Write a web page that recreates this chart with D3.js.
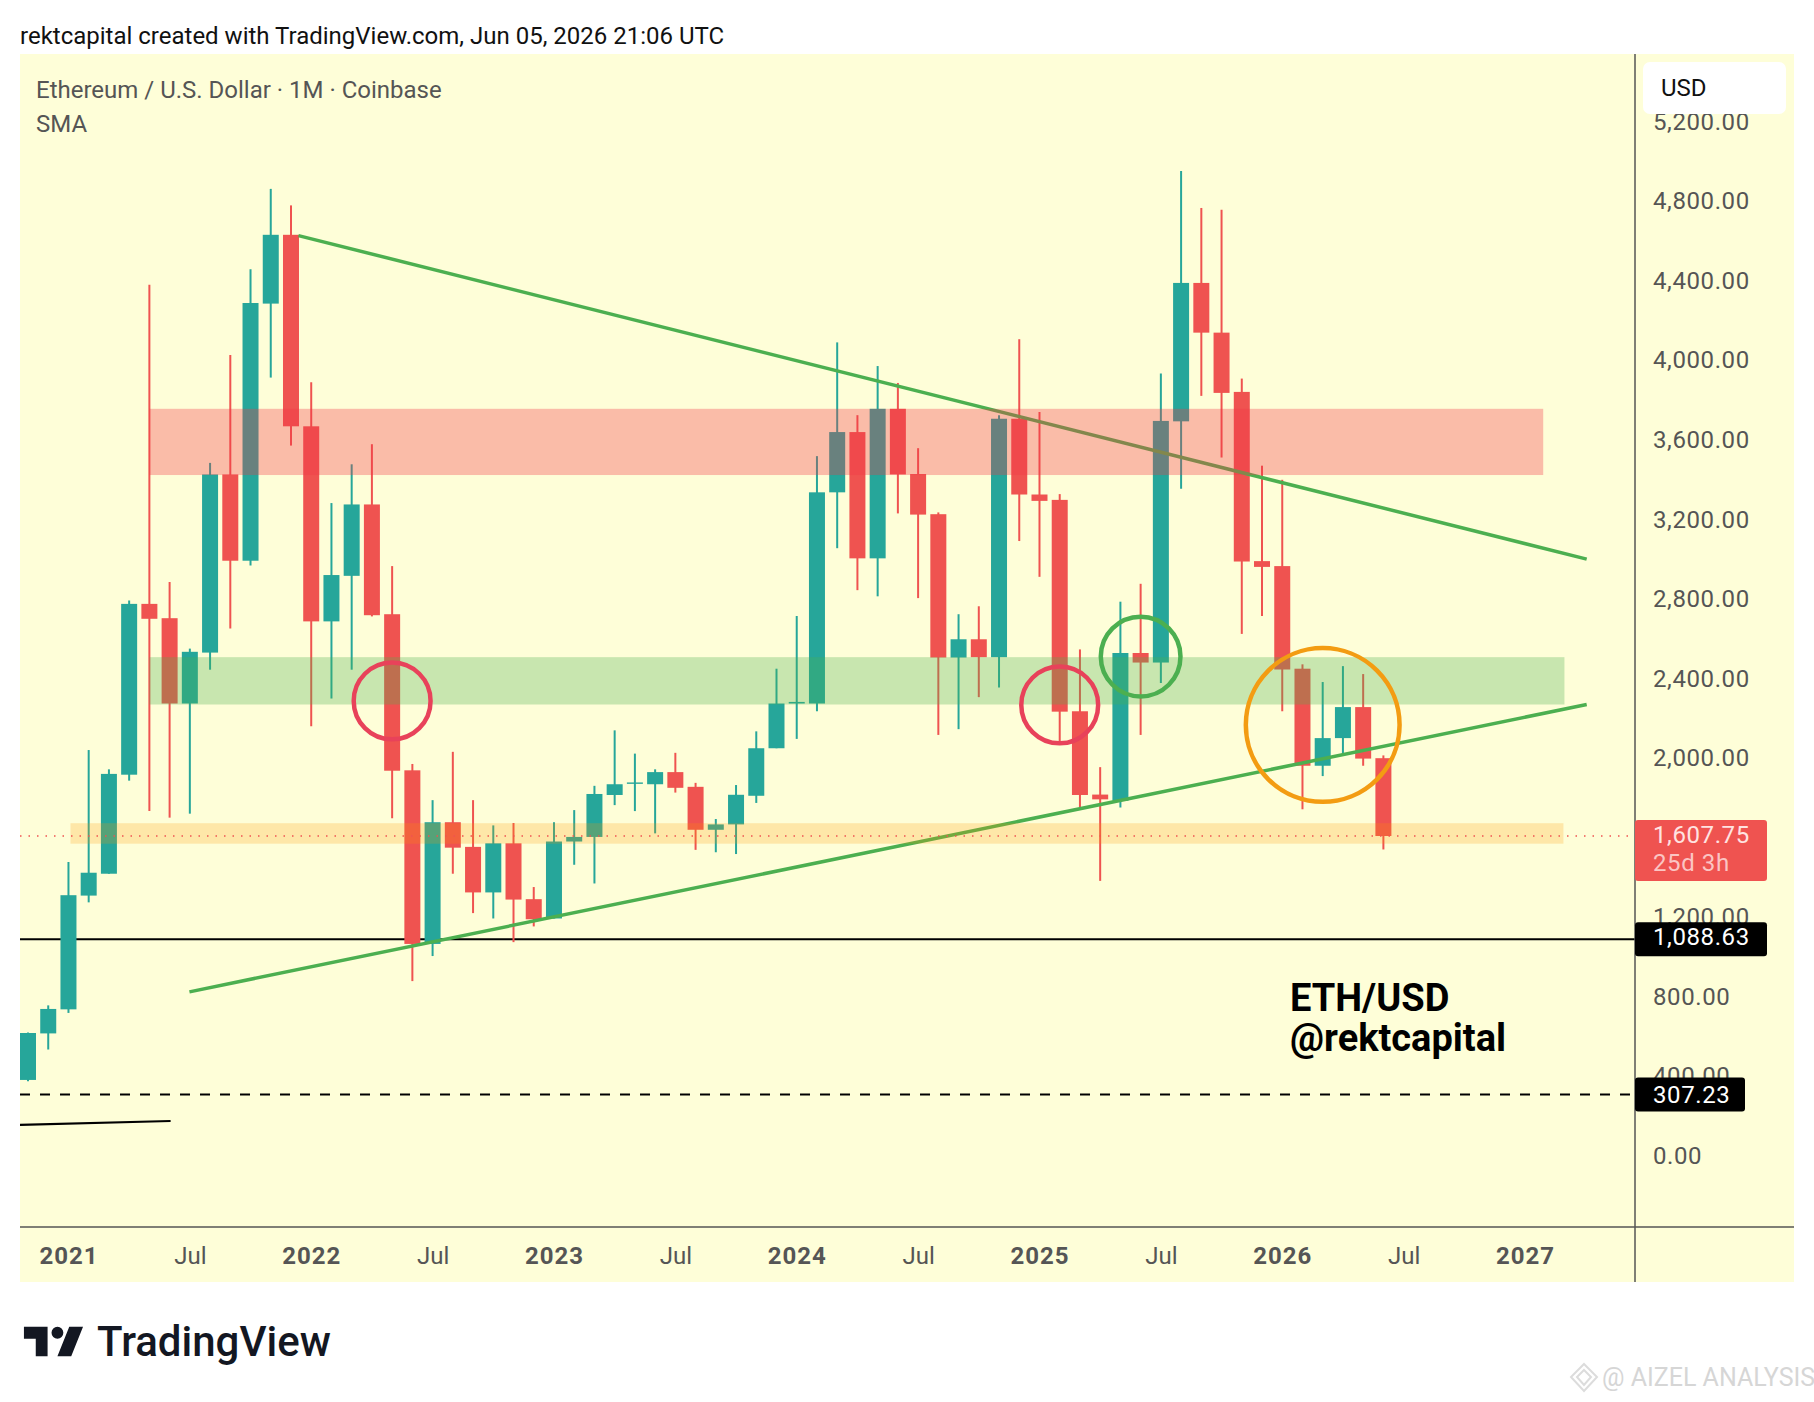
<!DOCTYPE html>
<html>
<head>
<meta charset="utf-8">
<script src="https://cdn.jsdelivr.net/npm/d3@7"></script>
<style>
  html, body { margin: 0; padding: 0; background: #fff; }
  svg { display: block; }
  text { font-family: Roboto, "Noto Sans", sans-serif; }
</style>
</head>
<body>
<svg id="chart" width="1814" height="1402"></svg>
<script>
// monthly candles, index 0 = Nov 2020
const opens = [381,615,736,1308,1418,1916,2775,2703,2274,2530,3426,2992,4285,4631,3668,2687,2916,3275,2723,1938,1065,1677,1553,1324,1571,1290,1193,1580,1603,1814,1870,1868,1929,1855,1639,1666,1810,2049,2274,2274,3336,3639,3004,3756,3428,3226,2505,2597,2507,3706,3325,3298,2235,1816,1785,2528,2480,3693,4389,4139,3841,2990,2965,2449,1961,2100,2256,1999];
const closes = [617,738,1310,1423,1920,2775,2700,2274,2534,3426,2992,4288,4631,3668,2687,2920,3275,2718,1936,1065,1677,1549,1324,1571,1288,1189,1580,1603,1819,1868,1877,1929,1850,1639,1666,1815,2049,2274,2282,3336,3639,3004,3756,3426,3224,2505,2597,2507,3706,3325,3293,2233,1814,1792,2528,2480,3695,4389,4139,3836,2988,2961,2445,1961,2100,2256,1997,1607.75];
const highs = [620,756,1477,2040,1943,2792,4380,2885,2550,3484,4027,4458,4862,4779,3890,3282,3477,3578,2965,1970,1788,2031,1788,1661,1673,1351,1677,1738,1860,2139,2022,1943,2026,1875,1693,1864,2134,2449,2714,3518,4090,3724,3971,3886,3558,3235,2723,2763,3724,4106,3740,3327,2546,1954,2786,2876,3933,4952,4766,4757,3908,3470,3399,2471,2382,2462,2422,2013];
const lows = [374,534,718,1274,1418,1886,1733,1700,1720,2444,2651,2968,3913,3571,2159,2299,2444,2712,1697,878,1004,1418,1220,1193,1074,1153,1193,1463,1369,1763,1733,1621,1826,1538,1526,1517,1774,2049,2096,2235,3055,2844,2813,3230,2804,2116,2145,2306,2355,3091,2911,2078,1751,1382,1751,2116,2377,3354,3821,3511,2624,2714,2235,1742,1909,2017,1961,1540];

const priceTicks = [0,400,800,1200,1600,2000,2400,2800,3200,3600,4000,4400,4800,5200];
const hiddenPriceTick = 1600;
const timeTickMonths = [2,8,14,20,26,32,38,44,50,56,62,68,74];
const timeTickLabels = ["2021","Jul","2022","Jul","2023","Jul","2024","Jul","2025","Jul","2026","Jul","2027"];

// drawings, in months and dollars
const zoneFrom = [6,6,2.1];
const zoneTo = [74.9,75.95,75.9];
const zoneLow = [3423,2269,1569];
const zoneHigh = [3756,2507,1672];
const zoneColors = ["rgba(242,54,69,0.33)","rgba(76,175,80,0.3)","rgba(255,152,0,0.22)"];

const trendMonths = [[13.37,77.05],[7.98,77.05]];
const trendPrices = [[4627,3000],[824,2269]];
const smaMonths = [-0.4,7.05];
const smaPrices = [155,175];

const circleMonths = [18,51,55,64];
const circlePrices = [2287,2267,2510,2166];
const circleRadii = [1.9,1.9,1.97,3.8];
const circleColors = ["#e8425a","#e8425a","#4caf50","#f39c12"];

const lastPrice = 1607.75;
const supportPrice = 1088.63;
const dashedPrice = 307.23;

const fmt = d3.format(",.2f");
const up = "#26a69a";
const down = "#ef5350";
const axisGrey = "#555";

const svg = d3.select("#chart");
const x = d3.scaleLinear().domain([0, 74]).range([28, 1525]);
const y = d3.scaleLinear().domain([0, 4800]).range([1155.7, 201.2]);

const panel = { left: 20, right: 1794, top: 54, bottom: 1282, axisX: 1635, axisY: 1227 };
const bandW = 16;

svg.append("defs").append("clipPath").attr("id", "plot")
  .append("rect").attr("x", panel.left).attr("y", panel.top)
  .attr("width", panel.axisX - panel.left).attr("height", panel.axisY - panel.top);

svg.append("rect").attr("x", panel.left).attr("y", panel.top)
  .attr("width", panel.right - panel.left).attr("height", panel.bottom - panel.top)
  .attr("fill", "#fefed8");

svg.append("text").attr("x", 20).attr("y", 44).attr("font-size", 24).attr("fill", "#111")
  .text("rektcapital created with TradingView.com, Jun 05, 2026 21:06 UTC");

// price axis labels go first so the tags and the USD box sit on top
const yAxis = d3.axisRight(y).tickValues(priceTicks.filter((d) => d !== hiddenPriceTick))
  .tickSize(0).tickPadding(0).tickFormat(fmt);
const yG = svg.append("g").attr("transform", `translate(1653,0)`).call(yAxis);
yG.select(".domain").remove();
yG.selectAll("text").attr("font-size", 24).attr("fill", axisGrey).attr("font-family", "Roboto").style("letter-spacing", "0.6px");

const plot = svg.append("g").attr("clip-path", "url(#plot)");

plot.append("line").attr("x1", panel.left).attr("x2", panel.axisX)
  .attr("y1", y(supportPrice)).attr("y2", y(supportPrice))
  .attr("stroke", "#000").attr("stroke-width", 2);
plot.append("line").attr("x1", panel.left).attr("x2", panel.axisX)
  .attr("y1", y(dashedPrice)).attr("y2", y(dashedPrice))
  .attr("stroke", "#000").attr("stroke-width", 2).attr("stroke-dasharray", "10 10");
plot.append("line").attr("x1", x(smaMonths[0])).attr("x2", x(smaMonths[1]))
  .attr("y1", y(smaPrices[0])).attr("y2", y(smaPrices[1]))
  .attr("stroke", "#000").attr("stroke-width", 2);

const candles = opens.map((o, i) => ({ i, o, c: closes[i], h: highs[i], l: lows[i] }));
const color = (d) => (d.c >= d.o ? up : down);

plot.append("g").selectAll("line").data(candles).join("line")
  .attr("x1", (d) => x(d.i)).attr("x2", (d) => x(d.i))
  .attr("y1", (d) => y(d.h)).attr("y2", (d) => y(d.l))
  .attr("stroke", color).attr("stroke-width", 2);

plot.append("g").selectAll("rect").data(candles).join("rect")
  .attr("x", (d) => x(d.i) - bandW / 2)
  .attr("width", bandW)
  .attr("y", (d) => y(Math.max(d.o, d.c)))
  .attr("height", (d) => Math.max(1, y(Math.min(d.o, d.c)) - y(Math.max(d.o, d.c))))
  .attr("fill", color);

plot.append("g").selectAll("line").data(trendMonths).join("line")
  .attr("x1", (d) => x(d[0])).attr("x2", (d) => x(d[1]))
  .attr("y1", (d, i) => y(trendPrices[i][0])).attr("y2", (d, i) => y(trendPrices[i][1]))
  .attr("stroke", "#4caf50").attr("stroke-width", 3.5);

plot.append("g").selectAll("rect").data(zoneFrom).join("rect")
  .attr("x", (d) => x(d))
  .attr("width", (d, i) => x(zoneTo[i]) - x(d))
  .attr("y", (d, i) => y(zoneHigh[i]))
  .attr("height", (d, i) => y(zoneLow[i]) - y(zoneHigh[i]))
  .attr("fill", (d, i) => zoneColors[i]);

plot.append("line").attr("x1", panel.left).attr("x2", panel.axisX)
  .attr("y1", y(lastPrice)).attr("y2", y(lastPrice))
  .attr("stroke", down).attr("stroke-width", 1.5).attr("stroke-dasharray", "1.5 7");

plot.append("g").selectAll("circle").data(circleMonths).join("circle")
  .attr("cx", (d) => x(d))
  .attr("cy", (d, i) => y(circlePrices[i]))
  .attr("r", (d, i) => x(circleRadii[i]) - x(0))
  .attr("fill", "none")
  .attr("stroke", (d, i) => circleColors[i])
  .attr("stroke-width", 4.5);

// time axis
const xAxis = d3.axisBottom(x).tickValues(timeTickMonths).tickSize(0).tickPadding(0)
  .tickFormat((d, i) => timeTickLabels[i]);
const xG = svg.append("g").attr("transform", `translate(0,1247)`).call(xAxis);
xG.select(".domain").remove();
xG.selectAll("text").attr("font-size", 24).attr("fill", axisGrey).attr("font-family", "Roboto")
  .attr("font-weight", (d, i) => (timeTickLabels[i] === "Jul" ? 400 : 700))
  .style("letter-spacing", (d, i) => (timeTickLabels[i] === "Jul" ? "0" : "1px"));

svg.append("line").attr("x1", panel.left).attr("x2", panel.right).attr("y1", panel.axisY).attr("y2", panel.axisY)
  .attr("stroke", axisGrey).attr("stroke-width", 1.5);
svg.append("line").attr("x1", panel.axisX).attr("x2", panel.axisX).attr("y1", panel.top).attr("y2", panel.bottom)
  .attr("stroke", axisGrey).attr("stroke-width", 1.5);

// legend
svg.append("text").attr("x", 36).attr("y", 98).attr("font-size", 24).attr("fill", axisGrey)
  .text("Ethereum / U.S. Dollar · 1M · Coinbase");
svg.append("text").attr("x", 36).attr("y", 132).attr("font-size", 24).attr("fill", axisGrey).text("SMA");

svg.append("rect").attr("x", 1643).attr("y", 62).attr("width", 143).attr("height", 52).attr("rx", 7).attr("fill", "#fff");
svg.append("text").attr("x", 1661).attr("y", 96).attr("font-size", 24).attr("fill", "#111").text("USD");

// price tags
svg.append("rect").attr("x", panel.axisX).attr("y", y(lastPrice) - 16).attr("width", 132).attr("height", 61).attr("rx", 3).attr("fill", down);
svg.append("text").attr("x", 1653).attr("y", y(lastPrice) + 7).attr("font-size", 24).attr("fill", "#ffe3e1").style("letter-spacing", "0.6px").text(fmt(lastPrice));
svg.append("text").attr("x", 1653).attr("y", y(lastPrice) + 35).attr("font-size", 24).attr("fill", "#fbc5c3").style("letter-spacing", "0.6px").text("25d 3h");

svg.append("rect").attr("x", panel.axisX).attr("y", y(supportPrice) - 17).attr("width", 132).attr("height", 34).attr("rx", 3).attr("fill", "#000");
svg.append("text").attr("x", 1653).attr("y", y(supportPrice) + 6).attr("font-size", 24).attr("fill", "#fff").style("letter-spacing", "0.6px").text(fmt(supportPrice));

svg.append("rect").attr("x", panel.axisX).attr("y", y(dashedPrice) - 17).attr("width", 110).attr("height", 34).attr("rx", 3).attr("fill", "#000");
svg.append("text").attr("x", 1653).attr("y", y(dashedPrice) + 8).attr("font-size", 24).attr("fill", "#fff").style("letter-spacing", "0.6px").text(fmt(dashedPrice));

// note on the chart
svg.append("text").attr("x", 1290).attr("y", 1011).attr("font-size", 38).attr("font-weight", 700).attr("fill", "#000").text("ETH/USD");
svg.append("text").attr("x", 1290).attr("y", 1051).attr("font-size", 38).attr("font-weight", 700).attr("fill", "#000").text("@rektcapital");

// footer
svg.append("path").attr("transform", "translate(20,1315) scale(1.97)")
  .attr("d", "M14 6H2v6h6v9h6V6zm12 15h-7l6-15h7l-6 15zm-7-9a3 3 0 1 0 0-6 3 3 0 0 0 0 6z").attr("fill", "#131722");
svg.append("text").attr("x", 97).attr("y", 1356).attr("font-size", 42).attr("font-weight", 500).attr("fill", "#131722").text("TradingView");

svg.append("path").attr("d", "M1584 1364 l13 13 -13 14 -13 -14z M1584 1370 l7 7 -7 8 -7 -8z")
  .attr("fill", "none").attr("stroke", "#dcdcdc").attr("stroke-width", 2);
svg.append("text").attr("x", 1602).attr("y", 1386).attr("font-size", 25).attr("fill", "#d6d6d6").text("@ AIZEL ANALYSIS");
</script>
</body>
</html>
